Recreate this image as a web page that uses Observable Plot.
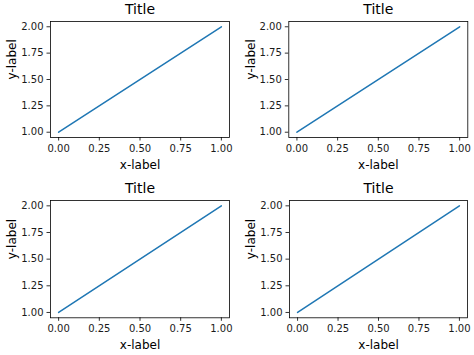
<!DOCTYPE html>
<html>
<head>
<meta charset="utf-8">
<script src="https://cdn.jsdelivr.net/npm/d3@7"></script>
<script src="https://cdn.jsdelivr.net/npm/@observablehq/plot@0.6"></script>
<style>
  html, body { margin: 0; padding: 0; background: white; }
  #fig { position: relative; width: 474px; height: 355px; background: white; overflow: hidden; }
  #fig > div { position: absolute; }
</style>
</head>
<body>
<div id="fig"></div>
<script>
// ---- data ----
const xValues = [0, 1];
const yValues = [1, 2];
const xTicks = [0, 0.25, 0.5, 0.75, 1];
const yTicks = [1, 1.25, 1.5, 1.75, 2];
const titles = ["Title", "Title", "Title", "Title"];
const xLabels = ["x-label", "x-label", "x-label", "x-label"];
const yLabels = ["y-label", "y-label", "y-label", "y-label"];

// ---- layout (positions only) ----
const panels = [
  {left: 0,   top: 0,   w: 237, h: 175, mL: 50,   mR: 8,   mT: 21, mB: 38},
  {left: 237, top: 0,   w: 237, h: 175, mL: 51.3, mR: 6.7, mT: 21, mB: 38},
  {left: 0,   top: 175, w: 237, h: 180, mL: 50,   mR: 8,   mT: 25, mB: 37.7},
  {left: 237, top: 175, w: 237, h: 180, mL: 52,   mR: 7,   mT: 25, mB: 37.7}
];

const data = xValues.map((x, i) => ({x, y: yValues[i]}));
const fmt = d3.format(".2f");
const fig = document.getElementById("fig");

panels.forEach((p, i) => {
  const chart = Plot.plot({
    width: p.w,
    height: p.h,
    marginLeft: p.mL,
    marginRight: p.mR,
    marginTop: p.mT,
    marginBottom: p.mB,
    x: {domain: [-0.05, 1.05]},
    y: {domain: [0.95, 2.05]},
    style: {fontFamily: "DejaVu Sans", fontSize: "10px", color: "black", background: "white", overflow: "visible"},
    marks: [
      Plot.axisX(xTicks, {tickSize: 3.5, tickPadding: 3.5, tickFormat: fmt, label: null, stroke: "black", strokeWidth: 0.8, fill: "#1a1a1a"}),
      Plot.axisY(yTicks, {tickSize: 3.5, tickPadding: 3.5, tickFormat: fmt, label: null, stroke: "black", strokeWidth: 0.8, fill: "#1a1a1a"}),
      Plot.line(data, {x: "x", y: "y", stroke: "#1f77b4", strokeWidth: 1.5}),
      Plot.frame({stroke: "black", strokeWidth: 0.8}),
      Plot.text([titles[i]], {frameAnchor: "top", dy: -7.7, lineAnchor: "bottom", fontSize: 14, fill: "black"}),
      Plot.text([xLabels[i]], {frameAnchor: "bottom", dy: 31.6, lineAnchor: "bottom", fontSize: 12, fill: "black"}),
      Plot.text([yLabels[i]], {frameAnchor: "left", dx: -38, rotate: -90, fontSize: 12, fill: "black"})
    ]
  });
  const wrap = document.createElement("div");
  wrap.style.left = p.left + "px";
  wrap.style.top = p.top + "px";
  wrap.appendChild(chart);
  fig.appendChild(wrap);
});
</script>
</body>
</html>
